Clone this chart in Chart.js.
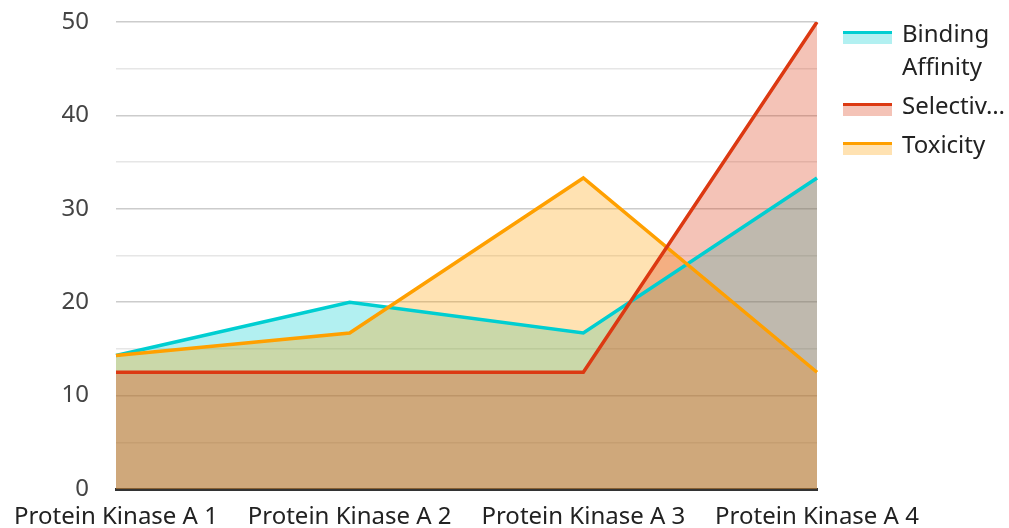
<!DOCTYPE html>
<html>
<head>
<meta charset="utf-8">
<script src="https://cdn.jsdelivr.net/npm/chart.js@4.4.1/dist/chart.umd.min.js"></script>
<style>
  html, body { margin: 0; padding: 0; background: #fff; }
  #wrap { position: relative; width: 1009px; height: 528px; overflow: hidden; }
  #c { position: absolute; left: 0; top: 0; }
  #legend { position: absolute; left: 843px; top: 16px; font-family: "Noto Sans", sans-serif; font-size: 24px; color: #222; }
  .item { position: relative; padding-left: 59px; line-height: 33px; margin-bottom: 6px; }
  .sw { position: absolute; left: 0; top: 15px; width: 49px; height: 13px; }
  .sw .ln { height: 3px; }
  .sw .fl { height: 10px; }
</style>
</head>
<body>
<div id="wrap">
  <canvas id="c" width="1009" height="528"></canvas>
  <div id="legend"></div>
</div>
<script>
const categories = ["Protein Kinase A 1", "Protein Kinase A 2", "Protein Kinase A 3", "Protein Kinase A 4"];
const bindingAffinity = [14.3, 20.0, 16.7, 33.3];
const selectivity = [12.5, 12.5, 12.5, 50.0];
const toxicity = [14.3, 16.7, 33.3, 12.5];
const seriesNames = ["Binding Affinity", "Selectivity", "Toxicity"];
const legendLabels = ["Binding<br>Affinity", "Selectiv…", "Toxicity"];
const lineColors = ["#00CED1", "#DC3912", "#FFA000"];
const fillColors = ["rgba(0,206,209,0.3)", "rgba(220,57,18,0.3)", "rgba(255,160,0,0.3)"];
const yTicks = [0, 10, 20, 30, 40, 50];

const seriesValues = [bindingAffinity, selectivity, toxicity];
const drawOrder = [2, 0, 1];

const datasets = seriesValues.map((vals, i) => ({
  label: seriesNames[i],
  data: vals,
  borderColor: lineColors[i],
  backgroundColor: fillColors[i],
  borderWidth: 3.5,
  fill: 'origin',
  pointRadius: 0,
  pointHoverRadius: 0,
  tension: 0,
  order: drawOrder[i]
}));

new Chart(document.getElementById('c'), {
  type: 'line',
  data: { labels: categories, datasets },
  options: {
    responsive: false,
    animation: false,
    layout: { padding: { top: 22, right: 192, left: 0, bottom: 0 } },
    plugins: {
      legend: { display: false },
      tooltip: { enabled: false },
      filler: { drawTime: 'beforeDatasetsDraw' }
    },
    scales: {
      x: {
        offset: false,
        grid: { display: false, drawTicks: false },
        border: { display: true, color: '#333', width: 3 },
        ticks: { color: '#222', font: { family: 'Noto Sans', size: 24 }, padding: 14, maxRotation: 0, autoSkip: false },
        afterFit: (s) => { s.height = 39; s.paddingLeft = 0; s.paddingRight = 0; }
      },
      y: {
        min: 0, max: 50,
        grid: {
          drawTicks: false,
          color: (ctx) => (ctx.tick && ctx.tick.value % 10 === 0) ? '#cccccc' : '#e6e6e6',
          lineWidth: 1.5
        },
        border: { display: false },
        ticks: {
          stepSize: 5,
          padding: 27,
          color: '#444',
          font: { family: 'Noto Sans', size: 24 },
          callback: (v) => yTicks.includes(v) ? String(v) : ''
        },
        afterFit: (s) => { s.width = 116; s.paddingTop = 0; s.paddingBottom = 0; }
      }
    }
  }
});

const lg = document.getElementById('legend');
seriesNames.forEach((n, i) => {
  const d = document.createElement('div');
  d.className = 'item';
  d.innerHTML = '<div class="sw"><div class="ln" style="background:' + lineColors[i] + '"></div><div class="fl" style="background:' + fillColors[i] + '"></div></div>' + legendLabels[i];
  lg.appendChild(d);
});
</script>
</body>
</html>
